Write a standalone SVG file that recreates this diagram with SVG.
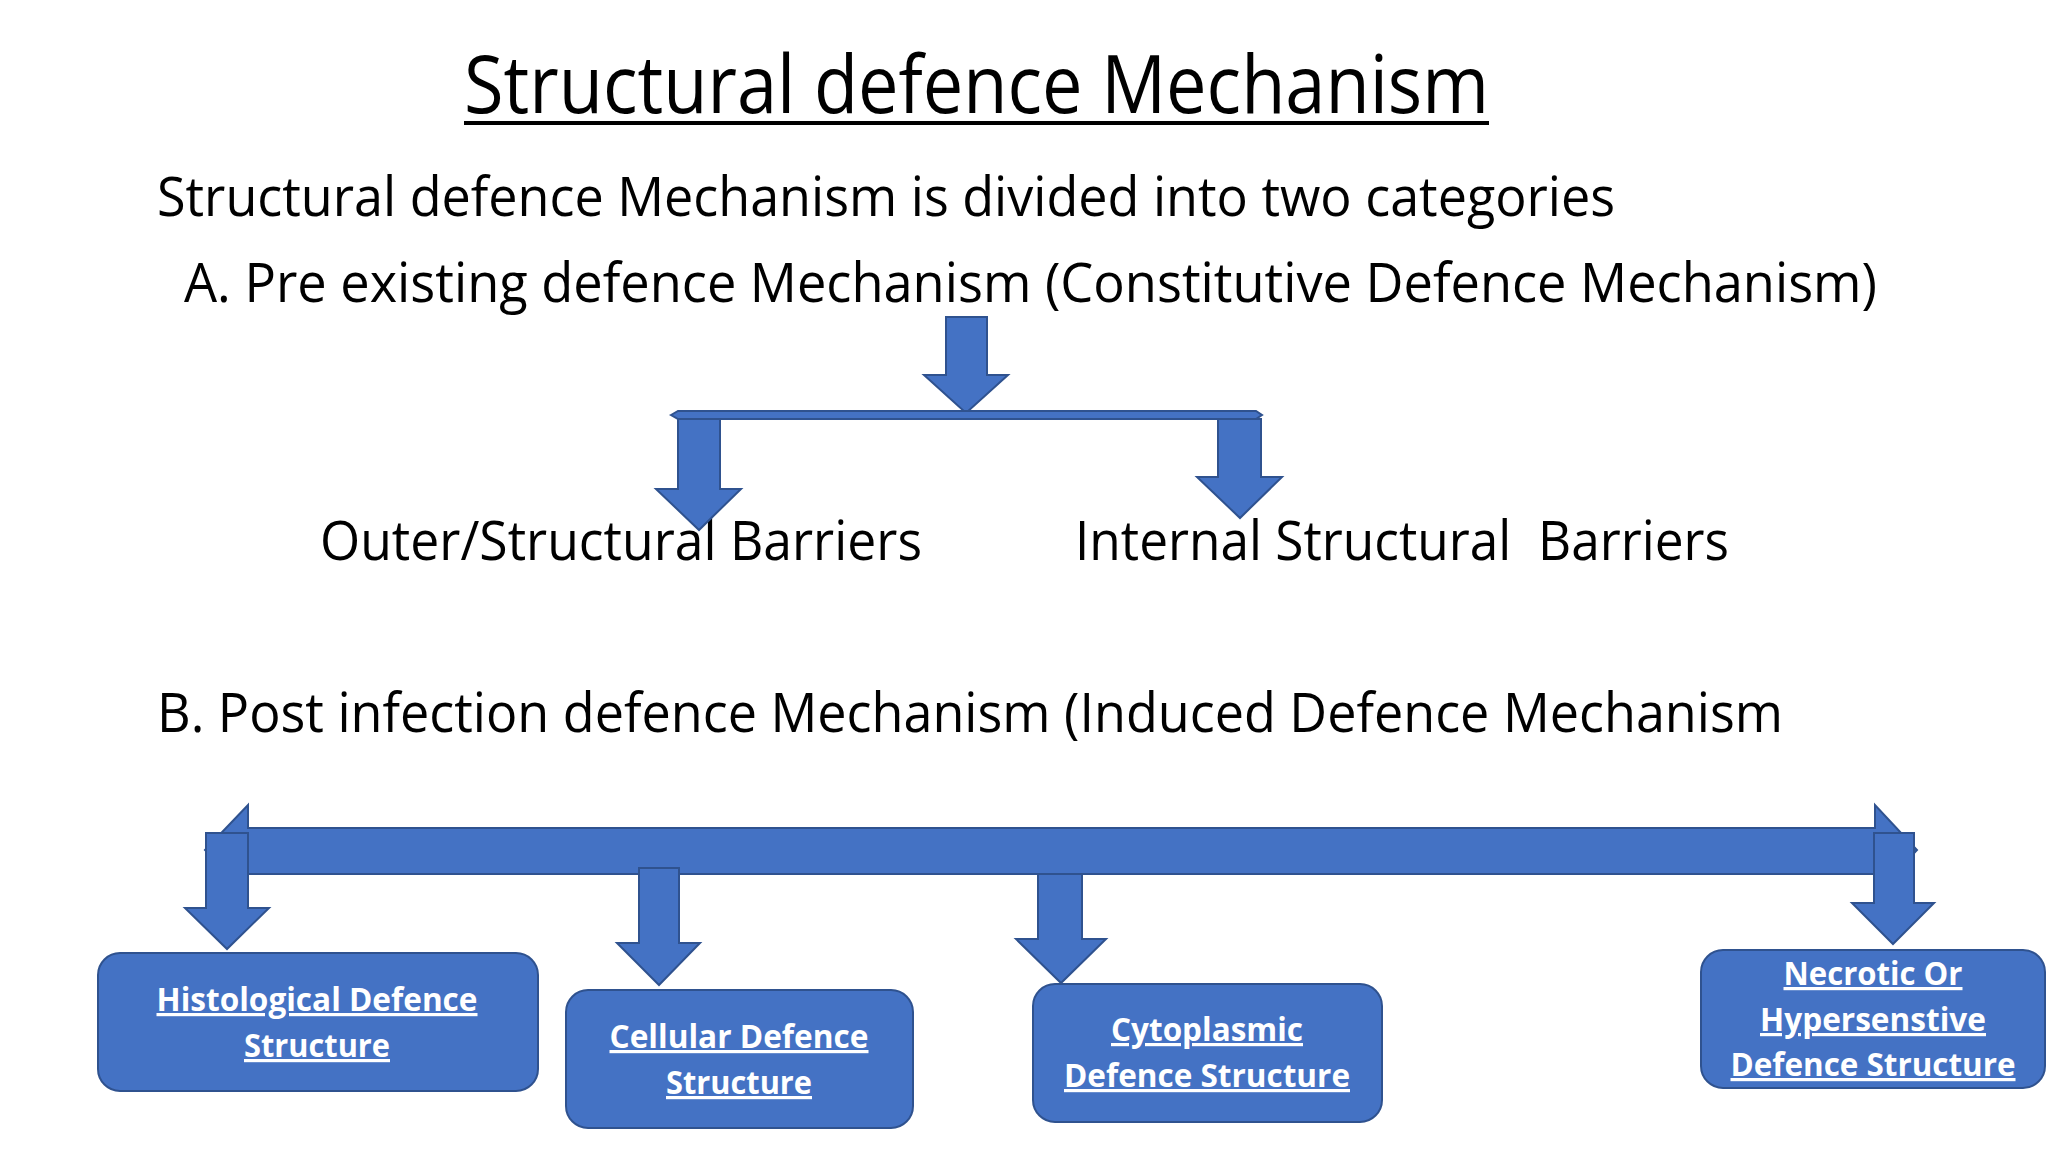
<svg xmlns="http://www.w3.org/2000/svg" width="2048" height="1152" viewBox="0 0 2048 1152">
<style>
.t{font-family:"Open Sans","Noto Sans",sans-serif;fill:#000}
.b{fill:#4472C4;stroke:#2F528F;stroke-width:2}
.bt{font-family:"Open Sans","Noto Sans",sans-serif;font-weight:bold;font-size:32px;fill:#fff;text-anchor:middle;text-decoration:underline}
</style>
<rect width="2048" height="1152" fill="#fff"/>
<g id="texts">
<text class="t" x="464" y="113" font-size="80" textLength="1025" lengthAdjust="spacingAndGlyphs">Structural defence Mechanism</text>
<rect x="464" y="121" width="1025" height="4" fill="#000"/>
<text class="t" x="157" y="216" font-size="54" textLength="1458" lengthAdjust="spacingAndGlyphs">Structural defence Mechanism is divided into two categories</text>
<text class="t" x="184" y="302" font-size="54" textLength="1693" lengthAdjust="spacingAndGlyphs">A. Pre existing defence Mechanism (Constitutive Defence Mechanism)</text>
<text class="t" x="320" y="560" font-size="54" textLength="602" lengthAdjust="spacingAndGlyphs">Outer/Structural Barriers</text>
<text class="t" x="1075" y="560" font-size="54" textLength="654" lengthAdjust="spacingAndGlyphs" xml:space="preserve">Internal Structural  Barriers</text>
<text class="t" x="157" y="732" font-size="54" textLength="1626" lengthAdjust="spacingAndGlyphs">B. Post infection defence Mechanism (Induced Defence Mechanism</text>
</g>
<g id="connectors">
<polygon class="b" points="946,317 987,317 987,375 1008,375 966,413 924,375 946,375"/>
<polygon class="b" points="671,415 678,411 1256,411 1262,415 1256,419 678,419"/>
<polygon class="b" points="678,419 720,419 720,489 741,489 699,530 656,489 678,489"/>
<polygon class="b" points="1218,419 1261,419 1261,477 1282,477 1240,518 1197,477 1218,477"/>
<polygon class="b" points="205,850 248,805 248,828 1875,828 1875,805 1917,850 1875,895 1875,874 248,874 248,895"/>
<polygon class="b" points="206,833 248,833 248,908 269,908 227,949 185,908 206,908"/>
<polygon class="b" points="639,868 679,868 679,943 700,943 659,985 617,943 639,943"/>
<polygon class="b" points="1038,874 1082,874 1082,939 1106,939 1061,983 1016,939 1038,939"/>
<polygon class="b" points="1874,833 1914,833 1914,903 1934,903 1893,944 1852,903 1874,903"/>
</g>
<g id="n1"><rect class="b" x="98" y="953" width="440" height="138" rx="22"/>
<text class="bt" x="317" y="1011" textLength="321" lengthAdjust="spacingAndGlyphs">Histological Defence</text>
<text class="bt" x="317" y="1057" textLength="146" lengthAdjust="spacingAndGlyphs">Structure</text></g>
<g id="n2"><rect class="b" x="566" y="990" width="347" height="138" rx="22"/>
<text class="bt" x="739" y="1048" textLength="259" lengthAdjust="spacingAndGlyphs">Cellular Defence</text>
<text class="bt" x="739" y="1094" textLength="146" lengthAdjust="spacingAndGlyphs">Structure</text></g>
<g id="n3"><rect class="b" x="1033" y="984" width="349" height="138" rx="22"/>
<text class="bt" x="1207" y="1041" textLength="192" lengthAdjust="spacingAndGlyphs">Cytoplasmic</text>
<text class="bt" x="1207" y="1087" textLength="286" lengthAdjust="spacingAndGlyphs">Defence Structure</text></g>
<g id="n4"><rect class="b" x="1701" y="950" width="344" height="138" rx="22"/>
<text class="bt" x="1873" y="985" textLength="179" lengthAdjust="spacingAndGlyphs">Necrotic Or</text>
<text class="bt" x="1873" y="1031" textLength="226" lengthAdjust="spacingAndGlyphs">Hypersenstive</text>
<text class="bt" x="1873" y="1076" textLength="285" lengthAdjust="spacingAndGlyphs">Defence Structure</text></g>
</svg>
